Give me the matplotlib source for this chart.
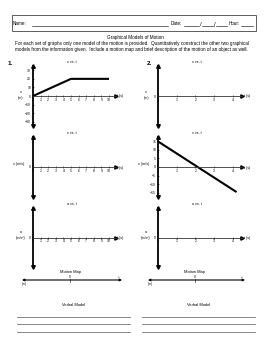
import numpy as np
import matplotlib
matplotlib.use('Agg')
import matplotlib.pyplot as plt

plt.rcParams['font.family'] = ['Liberation Sans', 'DejaVu Sans']

pos_t = [0, 5, 10]
pos_x = [0, 20, 20]
pos_yticks = [-30, -20, -10, 0, 10, 20, 30]
left_tticks = list(range(0, 11))

vel_t = [0, 4.2]
vel_v = [15, -14.7]
vel_yticks = [-15, -10, -5, 0, 5, 10, 15]
right_tticks = [0, 1, 2, 3, 4]

titles = ['x vs. t', 'v vs. t', 'a vs. t']

W, H = 270, 350
fig = plt.figure(figsize=(W / 100, H / 100), dpi=100)
fig.patch.set_facecolor('white')

# page overlay in pixel coords
bg = fig.add_axes([0, 0, 1, 1])
bg.set_xlim(0, W)
bg.set_ylim(H, 0)
bg.axis('off')

fs = 3.3
bg.add_patch(plt.Rectangle((12, 15), 244, 16, fill=False, lw=0.6, ec='#444'))
bg.text(13, 25, 'Name:', fontsize=fs, va='baseline')
bg.plot([32, 168], [26, 26], color='k', lw=0.4)
bg.text(171, 25, 'Date:', fontsize=fs, va='baseline')
bg.plot([184, 199], [26, 26], color='k', lw=0.4)
bg.text(199.5, 25.5, '/', fontsize=fs + 1, va='baseline')
bg.plot([202, 214], [26, 26], color='k', lw=0.4)
bg.text(214.5, 25.5, '/', fontsize=fs + 1, va='baseline')
bg.plot([216, 227], [26, 26], color='k', lw=0.4)
bg.text(229, 25, 'Hour:', fontsize=fs, va='baseline')
bg.plot([241, 253], [26, 26], color='k', lw=0.4)

bg.text(135, 39, 'Graphical Models of Motion', fontsize=fs, ha='center', va='baseline')
bg.text(15, 45, 'For each set of graphs only one model of the motion is provided.  Quantitatively construct the other two graphical',
        fontsize=fs, va='baseline')
bg.text(15, 51, 'models from the information given.  Include a motion map and brief description of the motion of an object as well.',
        fontsize=fs, va='baseline')

bg.text(8, 65, '1.', fontsize=4.5, fontweight='bold', va='baseline')
bg.text(147, 65, '2.', fontsize=4.5, fontweight='bold', va='baseline')

rows = [(66, 96, 126), (137, 167, 197), (208, 237, 267)]
cols = [(33, 116, 7.6, left_tticks, 72, 117), (158, 242, 18.7, right_tticks, 197, 244)]


def make_graph(col, row, ymax, yticks):
    px0, px1, scale, tticks, _, _ = col
    top, mid, bot = row
    ax = fig.add_axes([px0 / W, 1 - bot / H, (px1 - px0) / W, (bot - top) / H])
    ax.set_xlim(0, (px1 - px0) / scale)
    ax.set_ylim(-ymax, ymax)
    ax.patch.set_alpha(0)
    ax.spines['top'].set_visible(False)
    ax.spines['right'].set_visible(False)
    ax.spines['bottom'].set_position(('data', 0))
    ax.spines['left'].set_linewidth(1.3)
    ax.spines['bottom'].set_linewidth(0.6)
    ax.spines['bottom'].set_color('#333')
    ax.set_xticks(tticks)
    ax.set_yticks(yticks)
    ax.tick_params(length=1.6, width=0.4, labelsize=2.4, pad=0.6, direction='inout')
    ax.plot([0], [1], '^', ms=2.6, color='k', transform=ax.get_xaxis_transform(), clip_on=False)
    ax.plot([0], [0], 'v', ms=2.6, color='k', transform=ax.get_xaxis_transform(), clip_on=False)
    ax.plot([1], [0], '>', ms=2.4, color='k', transform=ax.get_yaxis_transform(), clip_on=False)
    return ax


for ci, col in enumerate(cols):
    px0, px1, scale, tticks, cx, tx = col
    for ri, row in enumerate(rows):
        top, mid, bot = row
        if ci == 0 and ri == 0:
            ax = make_graph(col, row, 35, pos_yticks)
            ax.plot(pos_t, pos_x, color='k', lw=1.5, solid_capstyle='butt')
        elif ci == 1 and ri == 1:
            ax = make_graph(col, row, 17.6, vel_yticks)
            ax.plot(vel_t, vel_v, color='k', lw=1.5, solid_capstyle='butt')
        else:
            ax = make_graph(col, row, 1, [0])
        bg.text(cx, top - 4, titles[ri], fontsize=2.6, ha='center', va='center')
        bg.text(tx, mid + 0.5, 't (s)', fontsize=2.7, va='center')
        lx = px0 - 12
        if ri == 0:
            bg.text(lx, mid - 4, 'x', fontsize=2.6, ha='center', va='center')
            bg.text(lx, mid + 2, '(m)', fontsize=2.6, ha='center', va='center')
        elif ri == 1:
            bg.text(lx - 2, mid - 3, 'v (m/s)', fontsize=2.6, ha='center', va='center')
        else:
            bg.text(lx, mid - 5, 'a', fontsize=2.6, ha='center', va='center')
            bg.text(lx, mid + 1.5, '(m/s²)', fontsize=2.6, ha='center', va='center')

# motion maps
for (mx0, mx1, mc) in [(22, 122, 70), (148, 245, 195)]:
    bg.annotate('', xy=(mx1, 280), xytext=(mx0, 280),
                arrowprops=dict(arrowstyle='<|-|>', lw=0.8, color='k', mutation_scale=3,
                                shrinkA=0, shrinkB=0))
    bg.plot([mc, mc], [278.5, 281.5], color='k', lw=0.4)
    bg.text(mc, 277, '0', fontsize=2.3, ha='center', va='center')
    bg.text(mx1 - 3, 276.5, '+', fontsize=2.3, ha='center', va='center')
    bg.text(mx0 + 2, 284, '(m)', fontsize=2.3, ha='center', va='center')
    bg.text(mc, 271.5, 'Motion Map', fontsize=2.9, ha='center', va='center')

# verbal model lines
for (vx0, vx1) in [(17, 130), (142, 255)]:
    bg.text((vx0 + vx1) / 2, 305, 'Verbal Model', fontsize=2.9, ha='center', va='center')
    for ly in [317, 324, 332]:
        bg.plot([vx0, vx1], [ly, ly], color='#888', lw=0.7)

fig.savefig('out.png', dpi=100, facecolor='white')
